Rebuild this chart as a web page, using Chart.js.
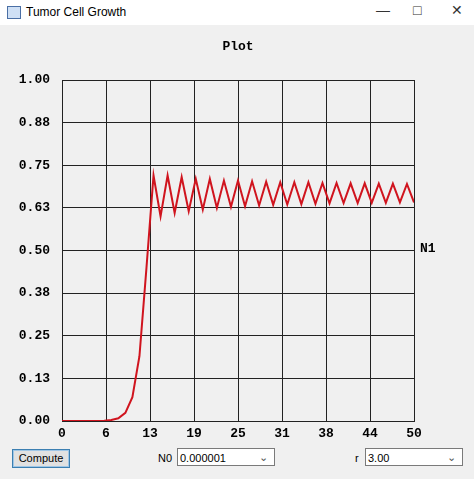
<!DOCTYPE html>
<html>
<head>
<meta charset="utf-8">
<script src="https://cdn.jsdelivr.net/npm/chart.js@4"></script>
<style>
  body { margin: 0; width: 474px; height: 479px; background: #f0f0f0; overflow: hidden; font-family: "Liberation Sans", Arial, sans-serif; position: relative; }
  #titlebar { position: absolute; left: 0; top: 0; width: 474px; height: 25px; background: #fff; font-size: 12px; }
  #titlebar .txt { position: absolute; left: 26px; top: 5px; color: #000; }
  #titlebar .icon { position: absolute; left: 7px; top: 6px; width: 12px; height: 11px; border: 1px solid #4a6fa5; background: #cfe0f5; }
  #titlebar .btn { position: absolute; top: 2px; color: #333; font-size: 14px; }
  #wrap { position: absolute; left: 0; top: 25px; width: 474px; height: 420px; }
  .button { position: absolute; left: 12px; top: 449px; width: 56px; height: 17px; border: 1px solid #3c7fb1; background: #e1e1e1; box-shadow: inset 0 0 0 1px #9fc6e6; font-size: 11px; text-align: center; line-height: 17px; }
  .lbl { position: absolute; top: 452px; font-size: 11px; }
  .combo { position: absolute; top: 448px; height: 18px; border: 1px solid #7a7a7a; background: #fff; font-size: 11px; line-height: 18px; padding-left: 2px; box-sizing: border-box; }
  .combo span { position: absolute; right: 6px; top: -1px; color: #555; }
</style>
</head>
<body>
<div id="titlebar">
  <div class="icon"></div>
  <div class="txt">Tumor Cell Growth</div>
  <div class="btn" style="left:376px">&#8212;</div>
  <div class="btn" style="left:413px">&#9633;</div>
  <div class="btn" style="left:451px">&#10005;</div>
</div>
<div id="wrap"><canvas id="graph"></canvas></div>
<div class="button">Compute</div>
<div class="lbl" style="left:158px">N0</div>
<div class="combo" style="left:177px;width:98px">0.000001<span>&#8964;</span></div>
<div class="lbl" style="left:355px">r</div>
<div class="combo" style="left:365px;width:98px">3.00<span>&#8964;</span></div>
<script>
const steps = [];
for (let i = 0; i <= 50; i++) steps.push(i);
const n1 = [
  0, 0, 0, 0, 0, 0, 0.001, 0.003, 0.008, 0.024,
  0.07, 0.19, 0.45, 0.72, 0.60, 0.72, 0.61, 0.715, 0.615, 0.71,
  0.62, 0.71, 0.625, 0.705, 0.628, 0.705, 0.63, 0.703, 0.632, 0.702,
  0.634, 0.70, 0.635, 0.70, 0.636, 0.70, 0.637, 0.698, 0.638, 0.698,
  0.639, 0.697, 0.639, 0.697, 0.64, 0.696, 0.64, 0.696, 0.641, 0.695,
  0.641
];
const yTicks = [0, 0.125, 0.25, 0.375, 0.5, 0.625, 0.75, 0.875, 1];

const font = {family: '"Liberation Mono", "Courier New", monospace', size: 13, weight: 'bold'};

const labels = {
  id: 'labels',
  afterDraw(chart) {
    const ctx = chart.ctx;
    const a = chart.chartArea;
    ctx.save();
    ctx.fillStyle = '#000';
    ctx.font = 'bold 13px "Liberation Mono", monospace';
    ctx.textAlign = 'center';
    ctx.textBaseline = 'middle';
    ctx.fillText('Plot', (a.left + a.right) / 2, 22);
    ctx.textAlign = 'left';
    ctx.fillText('N1', a.right + 6, chart.scales.y.getPixelForValue(0.5) - 2);
    ctx.restore();
  }
};

new Chart(document.getElementById('graph'), {
  type: 'line',
  data: {
    datasets: [{
      label: 'N1',
      data: steps.map((s, i) => ({x: s, y: n1[i]})),
      borderColor: '#d0141e',
      borderWidth: 2,
      pointRadius: 0,
      tension: 0
    }]
  },
  options: {
    responsive: true,
    maintainAspectRatio: false,
    animation: false,
    layout: {padding: {left: 0, right: 60, top: 55, bottom: 4}},
    plugins: {legend: {display: false}, tooltip: {enabled: false}},
    scales: {
      x: {
        type: 'linear', min: 0, max: 50,
        afterFit: s => { s.height = 20; },
        afterBuildTicks: s => { s.ticks = [0, 6.25, 12.5, 18.75, 25, 31.25, 37.5, 43.75, 50].map(v => ({value: v})); },
        ticks: {color: '#000', font, padding: 5, maxRotation: 0, callback: v => Math.round(v)},
        grid: {color: '#222', lineWidth: 1, drawTicks: false},
        border: {color: '#222'}
      },
      y: {
        min: 0, max: 1,
        afterFit: s => { s.width = 62; },
        afterBuildTicks: s => { s.ticks = yTicks.map(v => ({value: v})); },
        ticks: {color: '#000', font, padding: 12, callback: v => v.toFixed(2)},
        grid: {color: '#222', lineWidth: 1, drawTicks: false},
        border: {color: '#222'}
      }
    }
  },
  plugins: [labels]
});
</script>
</body>
</html>
